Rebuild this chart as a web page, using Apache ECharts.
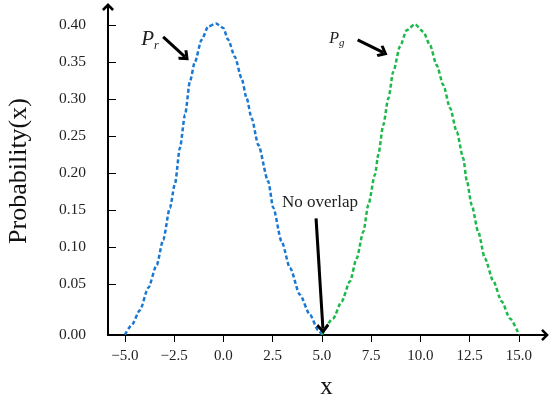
<!DOCTYPE html>
<html>
<head>
<meta charset="utf-8">
<script src="https://cdn.jsdelivr.net/npm/echarts@6/dist/echarts.min.js"></script>
<style>html,body{margin:0;padding:0;background:#fff;}#c{width:550px;height:396px;}</style>
</head>
<body>
<div id="c"></div>
<script>
// ---- data ----
var blueX = [-5.0, -4.66, -4.24, -3.82, -3.39, -3.06, -2.72, -2.46, -2.21, -1.95, -1.70, -1.45, -1.11, -0.77, -0.38, -0.01, 0.24, 0.58, 0.92, 1.18, 1.43, 1.77, 2.27, 2.53, 2.95, 3.38, 3.88, 4.39, 4.81, 5.0];
var blueY = [-0.018, -0.005, 0.015, 0.045, 0.076, 0.110, 0.153, 0.186, 0.234, 0.279, 0.324, 0.350, 0.380, 0.398, 0.402, 0.396, 0.380, 0.357, 0.328, 0.301, 0.274, 0.238, 0.189, 0.153, 0.108, 0.072, 0.036, 0.009, -0.012, -0.018];
var greenX = [5.0, 5.57, 6.00, 6.42, 6.76, 7.10, 7.35, 7.69, 7.86, 8.11, 8.37, 8.62, 8.96, 9.30, 9.72, 10.14, 10.48, 10.82, 11.16, 11.50, 11.84, 12.17, 12.35, 12.60, 12.93, 13.27, 13.70, 14.12, 14.54, 15.0];
var greenY = [-0.018, 0.004, 0.027, 0.054, 0.085, 0.121, 0.157, 0.198, 0.225, 0.265, 0.301, 0.337, 0.371, 0.393, 0.401, 0.391, 0.373, 0.346, 0.319, 0.288, 0.256, 0.220, 0.190, 0.157, 0.121, 0.085, 0.054, 0.027, 0.004, -0.018];

var xTickValues = [-5.0, -2.5, 0.0, 2.5, 5.0, 7.5, 10.0, 12.5, 15.0];
var yTickValues = [0.05, 0.10, 0.15, 0.20, 0.25, 0.30, 0.35, 0.40];
var yBaseValue = -0.0184;   // where the x axis sits (labelled 0.00)
var yBaseLabel = '0.00';
var xRange = [-5.86, 16.32];
var yTop = 0.4243;

var xName = 'x';
var yName = 'Probability(x)';
var noteText = 'No overlap';

// annotation anchors in data coordinates
var prLabelPos = [-3.73, 0.380];
var pgLabelPos = [5.76, 0.382];
var noteLabelPos = [4.90, 0.160];
var prArrow = [[-3.06, 0.384], [-1.95, 0.357]];
var pgArrow = [[6.81, 0.380], [8.10, 0.363]];
var noteArrow = [[4.70, 0.139], [5.05, -0.010]];

var FONT = "'Liberation Serif', 'DejaVu Serif', serif";
var chevron = 'path://M0,10 L10,0 L20,10 L17,13 L10,6 L3,13 Z';

function pairs(xs, ys) { return xs.map(function (x, i) { return [x, ys[i]]; }); }
function fmtNum(v, d) { var s = Math.abs(v).toFixed(d); return v < 0 ? '\u2212' + s : s; }

function arrowLine(a) {
  return [{ coord: a[0], symbol: 'none' }, { coord: a[1], symbol: chevron, symbolSize: [13, 10] }];
}

var chart = echarts.init(document.getElementById('c'), null, { renderer: 'canvas' });
chart.setOption({
  animation: false,
  backgroundColor: '#fff',
  grid: { left: 108, right: 5, top: 7, bottom: 61, containLabel: false, outerBoundsMode: 'none' },
  xAxis: {
    type: 'value', min: xRange[0], max: xRange[1],
    name: xName, nameLocation: 'middle', nameGap: 40,
    nameTextStyle: { fontFamily: FONT, fontSize: 25, color: '#111' },
    axisLine: { onZero: false, lineStyle: { color: '#000', width: 2 }, symbol: ['none', chevron], symbolSize: [12, 9] },
    axisTick: { show: true, inside: false, length: 7, lineStyle: { color: '#000', width: 1 }, customValues: xTickValues },
    axisLabel: { customValues: xTickValues, margin: 14, fontFamily: FONT, fontSize: 15, color: '#222',
      formatter: function (v) { return fmtNum(v, 1); } },
    splitLine: { show: false }
  },
  yAxis: {
    type: 'value', min: yBaseValue, max: yTop,
    name: yName, nameLocation: 'middle', nameGap: 76, nameRotate: 90,
    nameTextStyle: { fontFamily: FONT, fontSize: 26, color: '#111' },
    axisLine: { show: true, onZero: false, lineStyle: { color: '#000', width: 2 }, symbol: ['none', chevron], symbolSize: [12, 9] },
    axisTick: { show: true, inside: true, length: 8, lineStyle: { color: '#000', width: 1 }, customValues: yTickValues },
    axisLabel: { customValues: [yBaseValue].concat(yTickValues), margin: 22, fontFamily: FONT, fontSize: 15.5, color: '#222',
      formatter: function (v) { return v < 0.01 ? yBaseLabel : v.toFixed(2); } },
    splitLine: { show: false }
  },
  series: [
    {
      type: 'line', name: 'Pr', data: pairs(blueX, blueY), smooth: 0.25, smoothMonotone: 'x', showSymbol: false,
      lineStyle: { color: '#1a78d2', width: 2.5, type: [4, 2.5] }, silent: true,
      markLine: {
        silent: true, animation: false, label: { show: false },
        lineStyle: { color: '#000', width: 3, type: 'solid' },
        data: [arrowLine(prArrow), arrowLine(noteArrow)]
      },
      markPoint: {
        silent: true, symbol: 'circle', symbolSize: 0,
        data: [
          { coord: prLabelPos, label: { show: true, position: 'inside', formatter: '{p|P}{s|r}',
            rich: { p: { fontFamily: FONT, fontStyle: 'italic', fontSize: 21, color: '#222' },
                    s: { fontFamily: FONT, fontStyle: 'italic', fontSize: 12, color: '#222', padding: [12, 0, 0, 0] } } } },
          { coord: noteLabelPos, label: { show: true, position: 'inside', formatter: noteText,
            fontFamily: FONT, fontSize: 17, color: '#222' } }
        ]
      }
    },
    {
      type: 'line', name: 'Pg', data: pairs(greenX, greenY), smooth: 0.25, smoothMonotone: 'x', showSymbol: false,
      lineStyle: { color: '#1cb84a', width: 2.5, type: [4, 2.5] }, silent: true,
      markLine: {
        silent: true, animation: false, label: { show: false },
        lineStyle: { color: '#000', width: 3, type: 'solid' },
        data: [arrowLine(pgArrow)]
      },
      markPoint: {
        silent: true, symbol: 'circle', symbolSize: 0,
        data: [
          { coord: pgLabelPos, label: { show: true, position: 'inside', formatter: '{p|P}{s|g}',
            rich: { p: { fontFamily: FONT, fontStyle: 'italic', fontSize: 16, color: '#222' },
                    s: { fontFamily: FONT, fontStyle: 'italic', fontSize: 11, color: '#222', padding: [10, 0, 0, 0] } } } }
        ]
      }
    }
  ]
});
</script>
</body>
</html>
